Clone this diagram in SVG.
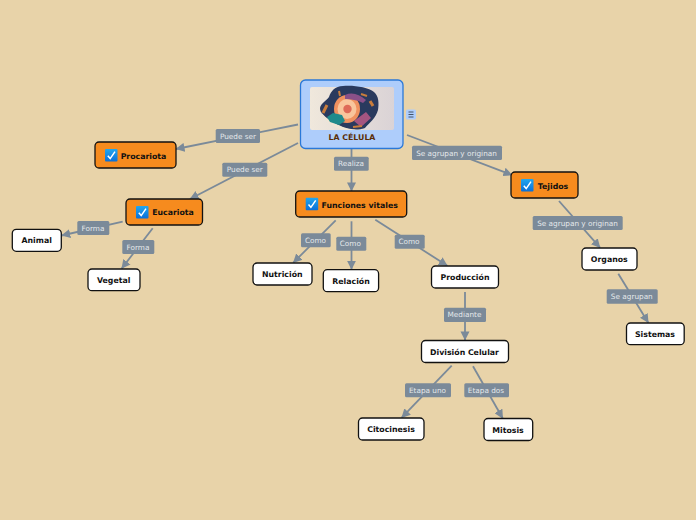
<svg xmlns="http://www.w3.org/2000/svg" width="696" height="520" viewBox="0 0 696 520">
<style>
text{font-family:"DejaVu Sans",sans-serif}
.c{fill:none;stroke:#7b8a99;stroke-width:1.8}
.l rect{fill:#7b8a99;stroke:none}
.l text{font-size:7.3px;fill:#e4e8ea;text-anchor:middle}
.n rect.b{fill:#fff;stroke:#111;stroke-width:1.3}
.o rect.b{fill:#f68b1e;stroke:#111;stroke-width:1.3}
.n text,.o text{font-size:7.8px;font-weight:bold;fill:#111;text-anchor:middle}
</style>
<defs>
<marker id="a" viewBox="0 0 10 10" refX="9.5" refY="5" markerWidth="5" markerHeight="5.2" markerUnits="strokeWidth" orient="auto"><path d="M0 0L10 5L0 10Z" fill="#7b8a99"/></marker>
<linearGradient id="ck" x1="0" y1="0" x2="0" y2="1"><stop offset="0" stop-color="#22a7ee"/><stop offset="1" stop-color="#0a6fd8"/></linearGradient>
<linearGradient id="bg" x1="0" y1="0" x2="1" y2="0"><stop offset="0" stop-color="#f0e8dc"/><stop offset="1" stop-color="#dad3d6"/></linearGradient>
<g id="check"><rect width="12.5" height="12.5" rx="1" fill="url(#ck)"/><path d="M2.8 6.8L5.2 9.6L10 2.6" fill="none" stroke="#fff" stroke-width="1.5"/></g>
</defs>
<rect width="696" height="520" fill="#e8d3a9"/>
<g id="connectors">
<path class="c" marker-end="url(#a)" d="M298 124.5L176 149"/>
<path class="c" marker-end="url(#a)" d="M298 143L190 199"/>
<path class="c" marker-end="url(#a)" d="M351.5 149V191"/>
<path class="c" marker-end="url(#a)" d="M407 135L512 175"/>
<path class="c" marker-end="url(#a)" d="M122.7 221.7L61.7 235.5"/>
<path class="c" marker-end="url(#a)" d="M152.7 228.3L121.7 268.5"/>
<path class="c" marker-end="url(#a)" d="M335.7 220.3L293.3 262.7"/>
<path class="c" marker-end="url(#a)" d="M351.5 221.3V269.3"/>
<path class="c" marker-end="url(#a)" d="M375.3 219.7L447.3 265.7"/>
<path class="c" marker-end="url(#a)" d="M465 292V340"/>
<path class="c" marker-end="url(#a)" d="M451.7 365.7L401.7 417.7"/>
<path class="c" marker-end="url(#a)" d="M473 366.3L502.7 418.3"/>
<path class="c" marker-end="url(#a)" d="M559 201L600 247.7"/>
<path class="c" marker-end="url(#a)" d="M618.3 273.7L648.3 322.7"/>
</g>
<g id="connector-labels">
<g class="l"><rect x="215.7" y="129" width="44.3" height="14" rx="1.5"/><text x="238" y="138.7">Puede ser</text></g>
<g class="l"><rect x="222.3" y="162.7" width="45" height="14" rx="1.5"/><text x="244.8" y="172.4">Puede ser</text></g>
<g class="l"><rect x="77.3" y="221" width="32" height="14" rx="1.5"/><text x="93" y="230.8">Forma</text></g>
<g class="l"><rect x="122.3" y="240" width="32" height="14" rx="1.5"/><text x="138" y="250">Forma</text></g>
<g class="l"><rect x="334" y="156.7" width="34.7" height="14" rx="1.5"/><text x="351" y="166.4">Realiza</text></g>
<g class="l"><rect x="301" y="233.3" width="29.7" height="14" rx="1.5"/><text x="315.5" y="243">Como</text></g>
<g class="l"><rect x="336.3" y="236.7" width="30" height="14" rx="1.5"/><text x="350.3" y="246.4">Como</text></g>
<g class="l"><rect x="394.7" y="234.7" width="30" height="14" rx="1.5"/><text x="409" y="244.4">Como</text></g>
<g class="l"><rect x="412" y="145.7" width="90" height="14.3" rx="1.5"/><text x="456.5" y="155.5">Se agrupan y originan</text></g>
<g class="l"><rect x="532.7" y="216" width="90" height="14" rx="1.5"/><text x="577.5" y="226">Se agrupan y originan</text></g>
<g class="l"><rect x="606.7" y="289.3" width="51" height="14.4" rx="1.5"/><text x="631.8" y="299.2">Se agrupan</text></g>
<g class="l"><rect x="444" y="307.7" width="42" height="14.3" rx="1.5"/><text x="464.5" y="317.4">Mediante</text></g>
<g class="l"><rect x="405" y="383.3" width="46" height="14" rx="1.5"/><text x="427.5" y="393.2">Etapa uno</text></g>
<g class="l"><rect x="464.3" y="383.3" width="44.7" height="14" rx="1.5"/><text x="486" y="393.2">Etapa dos</text></g>
</g>
<g id="root">
<rect x="300.5" y="80" width="102.5" height="68.5" rx="5" fill="#aecdfb" stroke="#2a78d8" stroke-width="1.3"/>
<rect x="310" y="87" width="84" height="43" rx="2" fill="url(#bg)"/>
<path d="M320 108C321 103 326 101 329 97C331 91 335 86 343 86C353 85 368 87 374 92C379 96 379 104 378 110C376 118 369 123 365 128C358 131 349 130 342 127C334 123 320 117 320 108Z" fill="#2a3a5e"/>
<path d="M321 112C326 119 336 124 343 127C351 130 359 130 365 128C357 131 340 131 333 126C327 122 323 118 321 112Z" fill="#efe5d5"/>
<ellipse cx="347" cy="109" rx="13" ry="14" fill="#f0915f"/>
<ellipse cx="347" cy="109" rx="9.5" ry="10" fill="#f9c59c"/>
<circle cx="347.5" cy="109" r="4.2" fill="#df6a58"/>
<path d="M327 117L333 113L342 115L345 121L339 125L330 122Z" fill="#1f8a8c"/>
<path d="M354 121L366 112L371 118L361 127Z" fill="#a55580"/>
<path d="M345 95C352 92 359 94 366 100L363 103C357 100 351 99 345 99Z" fill="#8a5088"/>
<path d="M323 113L327 105" stroke="#c97d3c" stroke-width="3" fill="none"/>
<path d="M370 101L373 106" stroke="#c97d3c" stroke-width="3" fill="none"/>
<path d="M361 94L367 96" stroke="#c97d3c" stroke-width="2" fill="none"/>
<path d="M353 127L362 126" stroke="#c97d3c" stroke-width="2" fill="none"/>
<path d="M339 91L340 96" stroke="#c97d3c" stroke-width="2" fill="none"/>
<text x="352" y="140" text-anchor="middle" font-size="7.8" font-weight="bold" fill="#5a2d08">LA CÉLULA</text>
</g>
<g id="root-handle">
<rect x="406" y="109.5" width="10" height="10" rx="1.5" fill="#aecdfb"/>
<path d="M408.5 112h5M408.5 114.5h5M408.5 117h5" stroke="#44546a" stroke-width="1"/>
</g>
<g id="procariota" class="o"><rect class="b" x="95" y="142" width="81" height="26" rx="4"/><use href="#check" x="105" y="149"/><text x="143.5" y="158.7">Procariota</text></g>
<g id="eucariota" class="o"><rect class="b" x="126" y="199" width="76.5" height="26" rx="4"/><use href="#check" x="136" y="206"/><text x="173" y="215">Eucariota</text></g>
<g id="funciones" class="o"><rect class="b" x="295.7" y="191" width="111" height="26" rx="4"/><use href="#check" x="305.7" y="197.7"/><text x="359.7" y="207.7">Funciones vitales</text></g>
<g id="tejidos" class="o"><rect class="b" x="511" y="172" width="67" height="26" rx="4"/><use href="#check" x="521" y="179"/><text x="553" y="188.8">Tejidos</text></g>
<g id="animal" class="n"><rect class="b" x="12.3" y="229.3" width="49" height="22" rx="4"/><text x="36.7" y="243">Animal</text></g>
<g id="vegetal" class="n"><rect class="b" x="88" y="269" width="52" height="21.7" rx="4"/><text x="113.7" y="283">Vegetal</text></g>
<g id="nutricion" class="n"><rect class="b" x="253" y="263" width="59" height="22" rx="4"/><text x="282.3" y="276.7">Nutrición</text></g>
<g id="relacion" class="n"><rect class="b" x="323.3" y="269.7" width="55.3" height="22" rx="4"/><text x="351" y="283.7">Relación</text></g>
<g id="produccion" class="n"><rect class="b" x="431.5" y="266" width="67" height="22" rx="4"/><text x="465" y="279.7">Producción</text></g>
<g id="organos" class="n"><rect class="b" x="582" y="248" width="55" height="22" rx="4"/><text x="609.3" y="261.7">Organos</text></g>
<g id="sistemas" class="n"><rect class="b" x="626.5" y="323" width="57.7" height="21.7" rx="4"/><text x="655" y="336.7">Sistemas</text></g>
<g id="division" class="n"><rect class="b" x="421.5" y="340.5" width="87" height="22" rx="4"/><text x="464.5" y="354.7">División Celular</text></g>
<g id="citocinesis" class="n"><rect class="b" x="358.5" y="418" width="65.5" height="22" rx="4"/><text x="391" y="432">Citocinesis</text></g>
<g id="mitosis" class="n"><rect class="b" x="484" y="418.5" width="48.7" height="22" rx="4"/><text x="508" y="433">Mitosis</text></g>
</svg>
